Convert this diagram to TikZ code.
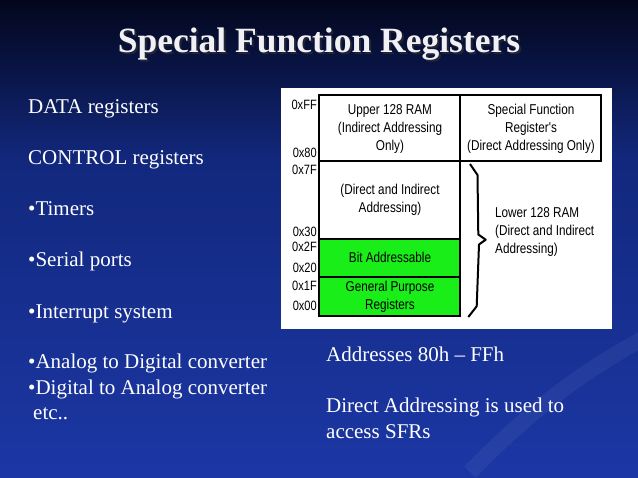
\documentclass[tikz,border=0pt]{standalone}
\usepackage{fontspec}
\setmainfont{Liberation Serif}
\newfontfamily\arialn[FakeStretch=0.82]{Liberation Sans}
\definecolor{bgtop}{RGB}{3,6,28}
\definecolor{bgmid}{RGB}{18,40,125}
\definecolor{bgbot}{RGB}{28,55,165}
\definecolor{regg}{RGB}{25,238,25}
\definecolor{titlec}{RGB}{240,240,245}
\begin{document}
\begin{tikzpicture}[x=1pt,y=-1pt,
  body/.style={text=white,font=\fontsize{21}{25}\selectfont,inner sep=0pt,anchor=base west},
  hexlbl/.style={font=\arialn\fontsize{13.5}{15}\selectfont,inner sep=0pt,anchor=base east},
  boxtxt/.style={font=\arialn\fontsize{14.3}{18}\selectfont,align=center,inner sep=0pt},
  cell/.style={draw=black,line width=2.8pt},
]
\useasboundingbox (0,0) rectangle (638,478);
\shade[top color=bgtop,bottom color=bgmid] (0,0) rectangle (638,160);
\shade[top color=bgmid,bottom color=bgbot] (0,160) rectangle (638,478);
\draw[white,opacity=0.05,line width=16pt] (470,472) .. controls (540,400) and (600,360) .. (660,330);

% title
\node[text=black!80,opacity=0.6,font=\bfseries\fontsize{35.5}{40}\selectfont,inner sep=0pt,anchor=base] (tsh) at (321,55) {Special Function Registers};
\node[text=titlec,font=\bfseries\fontsize{35.5}{40}\selectfont,inner sep=0pt,anchor=base] (title) at (319,53) {Special Function Registers};

% left text
\node[body] (l1) at (28,114) {DATA registers};
\node[body] (l2) at (28,165) {CONTROL registers};
\node[body] (l3) at (28,216) {•Timers};
\node[body] (l4) at (28,267) {•Serial ports};
\node[body] (l5) at (28,319) {•Interrupt system};
\node[body] (l6) at (28,369) {•Analog to Digital converter};
\node[body] (l7) at (28,395) {•Digital to Analog converter};
\node[body] (l8) at (33,420) {etc..};

% right text
\node[body] (r1) at (326,362) {Addresses 80h – FFh};
\node[body] (r2) at (326,413) {Direct Addressing is used to};
\node[body] (r3) at (326,439) {access SFRs};

% diagram panel
\fill[white] (281,88) rectangle (612,329);
\fill[regg] (319,239) rectangle (460,316);
\draw[cell] (319,95) rectangle (460,161);
\draw[cell] (460,95) rectangle (601,161);
\draw[cell] (319,161) rectangle (460,316);
\draw[cell] (319,239) -- (460,239);
\draw[cell] (319,277) -- (460,277);

% brace
\draw[line width=2pt,line join=round] (470,164) -- (477.5,175) -- (478.3,234.5) -- (485.7,239.7) -- (479,244.5) -- (476.7,306.3) -- (468.3,317);

% hex labels
\node[hexlbl] (hFF) at (317,109.5) {0xFF};
\node[hexlbl] (h80) at (317,157.5) {0x80};
\node[hexlbl] (h7F) at (317,174.5) {0x7F};
\node[hexlbl] (h30) at (317,236.5) {0x30};
\node[hexlbl] (h2F) at (317,252) {0x2F};
\node[hexlbl] (h20) at (317,273) {0x20};
\node[hexlbl] (h1F) at (317,290.5) {0x1F};
\node[hexlbl] (h00) at (317,311) {0x00};

% box texts
\node[boxtxt] (upper) at (390,129) {Upper 128 RAM\\(Indirect Addressing\\Only)};
\node[boxtxt] (sfr) at (531,129) {Special Function\\Register's\\(Direct Addressing Only)};
\node[boxtxt] (dir) at (390,200) {(Direct and Indirect\\Addressing)};
\node[boxtxt] (bit) at (390,257) {Bit Addressable};
\node[boxtxt] (gpr) at (390,297) {General Purpose\\Registers};
\node[boxtxt,align=left,anchor=west] (lower) at (495,232) {Lower 128 RAM\\(Direct and Indirect\\Addressing)};
\end{tikzpicture}
\end{document}
